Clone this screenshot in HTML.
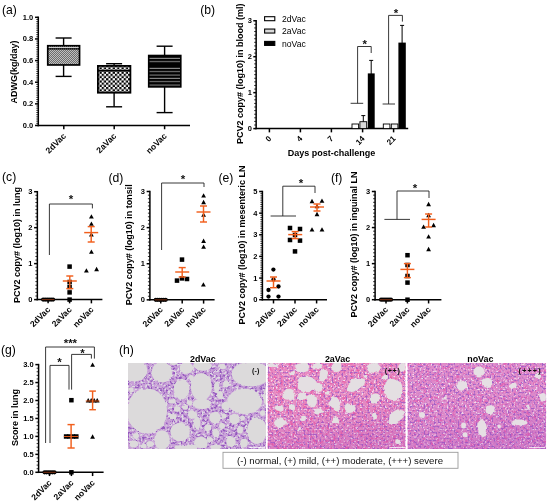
<!DOCTYPE html>
<html><head><meta charset="utf-8"><title>Figure</title><style>html,body{margin:0;padding:0;background:#fff}svg{display:block}text{font-family:"Liberation Sans",Arial,Helvetica,sans-serif}.b{font-weight:bold}.r{font-weight:normal}</style></head><body>
<svg width="550" height="504" viewBox="0 0 550 504">
<defs>
<pattern id="pA" width="2" height="2" patternUnits="userSpaceOnUse"><rect width="2" height="2" fill="#6c6c6c"/><rect width="0.9" height="0.9" fill="#d4d4d4"/><rect x="1" y="1" width="0.9" height="0.9" fill="#d4d4d4"/></pattern>
<pattern id="pA2" width="2" height="2" patternUnits="userSpaceOnUse"><rect width="2" height="2" fill="#d0d0d0"/><rect width="1" height="1" fill="#555"/></pattern>
<pattern id="pB" width="4.4" height="4.4" patternUnits="userSpaceOnUse" x="97.3" y="65.0"><rect width="4.4" height="4.4" fill="#fff"/><rect width="2.2" height="2.2" fill="#000"/><rect x="2.2" y="2.2" width="2.2" height="2.2" fill="#000"/></pattern>
<pattern id="pC" width="4" height="3.33" patternUnits="userSpaceOnUse" x="148" y="56.4"><rect width="4" height="3.33" fill="#000"/><rect y="1.5" width="4" height="0.85" fill="#a8a8a8"/></pattern>
</defs>
<rect x="0.00" y="0.00" width="550.00" height="504.00" fill="#fff"/>
<text x="1.90" y="14.00" font-size="12.2" class="r" text-anchor="start" fill="#000">(a)</text>
<text x="200.20" y="13.90" font-size="12.2" class="r" text-anchor="start" fill="#000">(b)</text>
<text x="2.00" y="180.70" font-size="12.2" class="r" text-anchor="start" fill="#000">(c)</text>
<text x="108.50" y="181.60" font-size="12.2" class="r" text-anchor="start" fill="#000">(d)</text>
<text x="218.50" y="181.60" font-size="12.2" class="r" text-anchor="start" fill="#000">(e)</text>
<text x="330.90" y="181.60" font-size="12.2" class="r" text-anchor="start" fill="#000">(f)</text>
<text x="1.00" y="354.30" font-size="12.2" class="r" text-anchor="start" fill="#000">(g)</text>
<text x="118.90" y="354.10" font-size="12.2" class="r" text-anchor="start" fill="#000">(h)</text>
<line x1="38.30" y1="16.55" x2="38.30" y2="126.25" stroke="#000" stroke-width="1.5" stroke-linecap="butt"/>
<line x1="35.05" y1="17.30" x2="38.30" y2="17.30" stroke="#000" stroke-width="1.5" stroke-linecap="butt"/>
<text x="33.30" y="19.85" font-size="7.5" class="b" text-anchor="end" fill="#000">1.0</text>
<line x1="36.30" y1="19.46" x2="38.30" y2="19.46" stroke="#000" stroke-width="0.8" stroke-linecap="butt"/>
<line x1="36.30" y1="21.63" x2="38.30" y2="21.63" stroke="#000" stroke-width="0.8" stroke-linecap="butt"/>
<line x1="36.30" y1="23.79" x2="38.30" y2="23.79" stroke="#000" stroke-width="0.8" stroke-linecap="butt"/>
<line x1="36.30" y1="25.96" x2="38.30" y2="25.96" stroke="#000" stroke-width="0.8" stroke-linecap="butt"/>
<line x1="36.30" y1="28.12" x2="38.30" y2="28.12" stroke="#000" stroke-width="0.8" stroke-linecap="butt"/>
<line x1="36.30" y1="30.28" x2="38.30" y2="30.28" stroke="#000" stroke-width="0.8" stroke-linecap="butt"/>
<line x1="36.30" y1="32.45" x2="38.30" y2="32.45" stroke="#000" stroke-width="0.8" stroke-linecap="butt"/>
<line x1="36.30" y1="34.61" x2="38.30" y2="34.61" stroke="#000" stroke-width="0.8" stroke-linecap="butt"/>
<line x1="36.30" y1="36.78" x2="38.30" y2="36.78" stroke="#000" stroke-width="0.8" stroke-linecap="butt"/>
<line x1="35.05" y1="38.94" x2="38.30" y2="38.94" stroke="#000" stroke-width="1.5" stroke-linecap="butt"/>
<text x="33.30" y="41.49" font-size="7.5" class="b" text-anchor="end" fill="#000">0.8</text>
<line x1="36.30" y1="41.10" x2="38.30" y2="41.10" stroke="#000" stroke-width="0.8" stroke-linecap="butt"/>
<line x1="36.30" y1="43.27" x2="38.30" y2="43.27" stroke="#000" stroke-width="0.8" stroke-linecap="butt"/>
<line x1="36.30" y1="45.43" x2="38.30" y2="45.43" stroke="#000" stroke-width="0.8" stroke-linecap="butt"/>
<line x1="36.30" y1="47.60" x2="38.30" y2="47.60" stroke="#000" stroke-width="0.8" stroke-linecap="butt"/>
<line x1="36.30" y1="49.76" x2="38.30" y2="49.76" stroke="#000" stroke-width="0.8" stroke-linecap="butt"/>
<line x1="36.30" y1="51.92" x2="38.30" y2="51.92" stroke="#000" stroke-width="0.8" stroke-linecap="butt"/>
<line x1="36.30" y1="54.09" x2="38.30" y2="54.09" stroke="#000" stroke-width="0.8" stroke-linecap="butt"/>
<line x1="36.30" y1="56.25" x2="38.30" y2="56.25" stroke="#000" stroke-width="0.8" stroke-linecap="butt"/>
<line x1="36.30" y1="58.42" x2="38.30" y2="58.42" stroke="#000" stroke-width="0.8" stroke-linecap="butt"/>
<line x1="35.05" y1="60.58" x2="38.30" y2="60.58" stroke="#000" stroke-width="1.5" stroke-linecap="butt"/>
<text x="33.30" y="63.13" font-size="7.5" class="b" text-anchor="end" fill="#000">0.6</text>
<line x1="36.30" y1="62.74" x2="38.30" y2="62.74" stroke="#000" stroke-width="0.8" stroke-linecap="butt"/>
<line x1="36.30" y1="64.91" x2="38.30" y2="64.91" stroke="#000" stroke-width="0.8" stroke-linecap="butt"/>
<line x1="36.30" y1="67.07" x2="38.30" y2="67.07" stroke="#000" stroke-width="0.8" stroke-linecap="butt"/>
<line x1="36.30" y1="69.24" x2="38.30" y2="69.24" stroke="#000" stroke-width="0.8" stroke-linecap="butt"/>
<line x1="36.30" y1="71.40" x2="38.30" y2="71.40" stroke="#000" stroke-width="0.8" stroke-linecap="butt"/>
<line x1="36.30" y1="73.56" x2="38.30" y2="73.56" stroke="#000" stroke-width="0.8" stroke-linecap="butt"/>
<line x1="36.30" y1="75.73" x2="38.30" y2="75.73" stroke="#000" stroke-width="0.8" stroke-linecap="butt"/>
<line x1="36.30" y1="77.89" x2="38.30" y2="77.89" stroke="#000" stroke-width="0.8" stroke-linecap="butt"/>
<line x1="36.30" y1="80.06" x2="38.30" y2="80.06" stroke="#000" stroke-width="0.8" stroke-linecap="butt"/>
<line x1="35.05" y1="82.22" x2="38.30" y2="82.22" stroke="#000" stroke-width="1.5" stroke-linecap="butt"/>
<text x="33.30" y="84.77" font-size="7.5" class="b" text-anchor="end" fill="#000">0.4</text>
<line x1="36.30" y1="84.38" x2="38.30" y2="84.38" stroke="#000" stroke-width="0.8" stroke-linecap="butt"/>
<line x1="36.30" y1="86.55" x2="38.30" y2="86.55" stroke="#000" stroke-width="0.8" stroke-linecap="butt"/>
<line x1="36.30" y1="88.71" x2="38.30" y2="88.71" stroke="#000" stroke-width="0.8" stroke-linecap="butt"/>
<line x1="36.30" y1="90.88" x2="38.30" y2="90.88" stroke="#000" stroke-width="0.8" stroke-linecap="butt"/>
<line x1="36.30" y1="93.04" x2="38.30" y2="93.04" stroke="#000" stroke-width="0.8" stroke-linecap="butt"/>
<line x1="36.30" y1="95.20" x2="38.30" y2="95.20" stroke="#000" stroke-width="0.8" stroke-linecap="butt"/>
<line x1="36.30" y1="97.37" x2="38.30" y2="97.37" stroke="#000" stroke-width="0.8" stroke-linecap="butt"/>
<line x1="36.30" y1="99.53" x2="38.30" y2="99.53" stroke="#000" stroke-width="0.8" stroke-linecap="butt"/>
<line x1="36.30" y1="101.70" x2="38.30" y2="101.70" stroke="#000" stroke-width="0.8" stroke-linecap="butt"/>
<line x1="35.05" y1="103.86" x2="38.30" y2="103.86" stroke="#000" stroke-width="1.5" stroke-linecap="butt"/>
<text x="33.30" y="106.41" font-size="7.5" class="b" text-anchor="end" fill="#000">0.2</text>
<line x1="36.30" y1="106.02" x2="38.30" y2="106.02" stroke="#000" stroke-width="0.8" stroke-linecap="butt"/>
<line x1="36.30" y1="108.19" x2="38.30" y2="108.19" stroke="#000" stroke-width="0.8" stroke-linecap="butt"/>
<line x1="36.30" y1="110.35" x2="38.30" y2="110.35" stroke="#000" stroke-width="0.8" stroke-linecap="butt"/>
<line x1="36.30" y1="112.52" x2="38.30" y2="112.52" stroke="#000" stroke-width="0.8" stroke-linecap="butt"/>
<line x1="36.30" y1="114.68" x2="38.30" y2="114.68" stroke="#000" stroke-width="0.8" stroke-linecap="butt"/>
<line x1="36.30" y1="116.84" x2="38.30" y2="116.84" stroke="#000" stroke-width="0.8" stroke-linecap="butt"/>
<line x1="36.30" y1="119.01" x2="38.30" y2="119.01" stroke="#000" stroke-width="0.8" stroke-linecap="butt"/>
<line x1="36.30" y1="121.17" x2="38.30" y2="121.17" stroke="#000" stroke-width="0.8" stroke-linecap="butt"/>
<line x1="36.30" y1="123.34" x2="38.30" y2="123.34" stroke="#000" stroke-width="0.8" stroke-linecap="butt"/>
<line x1="35.05" y1="125.50" x2="38.30" y2="125.50" stroke="#000" stroke-width="1.5" stroke-linecap="butt"/>
<text x="33.30" y="128.05" font-size="7.5" class="b" text-anchor="end" fill="#000">0.0</text>
<line x1="37.55" y1="125.50" x2="190.00" y2="125.50" stroke="#000" stroke-width="1.5" stroke-linecap="butt"/>
<line x1="63.80" y1="125.50" x2="63.80" y2="129.25" stroke="#000" stroke-width="1.5" stroke-linecap="butt"/>
<line x1="114.20" y1="125.50" x2="114.20" y2="129.25" stroke="#000" stroke-width="1.5" stroke-linecap="butt"/>
<line x1="164.60" y1="125.50" x2="164.60" y2="129.25" stroke="#000" stroke-width="1.5" stroke-linecap="butt"/>
<text x="66.50" y="136.60" font-size="8.5" class="b" text-anchor="end" fill="#000" transform="rotate(-45 66.50 136.60)">2dVac</text>
<text x="116.90" y="136.60" font-size="8.5" class="b" text-anchor="end" fill="#000" transform="rotate(-45 116.90 136.60)">2aVac</text>
<text x="167.30" y="136.60" font-size="8.5" class="b" text-anchor="end" fill="#000" transform="rotate(-45 167.30 136.60)">noVac</text>
<text x="17.20" y="72.00" font-size="9" class="b" text-anchor="middle" fill="#000" transform="rotate(-90 17.20 72.00)">ADWG(kg/day)</text>
<line x1="63.60" y1="38.00" x2="63.60" y2="76.40" stroke="#000" stroke-width="1.4" stroke-linecap="butt"/>
<line x1="55.60" y1="38.00" x2="71.60" y2="38.00" stroke="#000" stroke-width="1.4" stroke-linecap="butt"/>
<line x1="55.60" y1="76.40" x2="71.60" y2="76.40" stroke="#000" stroke-width="1.4" stroke-linecap="butt"/>
<rect x="47.75" y="45.75" width="31.80" height="19.20" fill="url(#pA)"/>
<rect x="47.75" y="45.75" width="31.80" height="3.20" fill="url(#pA2)"/>
<rect x="47.75" y="45.75" width="31.80" height="19.20" fill="none" stroke="#000" stroke-width="1.7"/>
<line x1="47.75" y1="48.90" x2="79.55" y2="48.90" stroke="#000" stroke-width="1.3" stroke-linecap="butt"/>
<line x1="114.10" y1="63.70" x2="114.10" y2="106.80" stroke="#000" stroke-width="1.4" stroke-linecap="butt"/>
<line x1="106.10" y1="63.70" x2="122.10" y2="63.70" stroke="#000" stroke-width="1.4" stroke-linecap="butt"/>
<line x1="106.10" y1="106.80" x2="122.10" y2="106.80" stroke="#000" stroke-width="1.4" stroke-linecap="butt"/>
<rect x="97.90" y="65.90" width="32.50" height="26.80" fill="url(#pB)" stroke="#000" stroke-width="1.8"/>
<line x1="97.90" y1="70.80" x2="130.40" y2="70.80" stroke="#000" stroke-width="1.4" stroke-linecap="butt"/>
<line x1="164.60" y1="46.20" x2="164.60" y2="112.60" stroke="#000" stroke-width="1.4" stroke-linecap="butt"/>
<line x1="156.60" y1="46.20" x2="172.60" y2="46.20" stroke="#000" stroke-width="1.4" stroke-linecap="butt"/>
<line x1="156.60" y1="112.60" x2="172.60" y2="112.60" stroke="#000" stroke-width="1.4" stroke-linecap="butt"/>
<rect x="148.70" y="55.50" width="32.10" height="31.40" fill="url(#pC)" stroke="#000" stroke-width="1.6"/>
<line x1="148.70" y1="64.90" x2="180.80" y2="64.90" stroke="#000" stroke-width="2.2" stroke-linecap="butt"/>
<line x1="256.15" y1="20.00" x2="256.15" y2="129.35" stroke="#000" stroke-width="1.5" stroke-linecap="butt"/>
<line x1="253.30" y1="20.75" x2="256.15" y2="20.75" stroke="#000" stroke-width="1.5" stroke-linecap="butt"/>
<text x="252.00" y="23.30" font-size="7.5" class="b" text-anchor="end" fill="#000">3</text>
<line x1="254.15" y1="24.34" x2="256.15" y2="24.34" stroke="#000" stroke-width="0.8" stroke-linecap="butt"/>
<line x1="254.15" y1="27.94" x2="256.15" y2="27.94" stroke="#000" stroke-width="0.8" stroke-linecap="butt"/>
<line x1="254.15" y1="31.54" x2="256.15" y2="31.54" stroke="#000" stroke-width="0.8" stroke-linecap="butt"/>
<line x1="254.15" y1="35.13" x2="256.15" y2="35.13" stroke="#000" stroke-width="0.8" stroke-linecap="butt"/>
<line x1="254.15" y1="38.72" x2="256.15" y2="38.72" stroke="#000" stroke-width="0.8" stroke-linecap="butt"/>
<line x1="254.15" y1="42.32" x2="256.15" y2="42.32" stroke="#000" stroke-width="0.8" stroke-linecap="butt"/>
<line x1="254.15" y1="45.91" x2="256.15" y2="45.91" stroke="#000" stroke-width="0.8" stroke-linecap="butt"/>
<line x1="254.15" y1="49.51" x2="256.15" y2="49.51" stroke="#000" stroke-width="0.8" stroke-linecap="butt"/>
<line x1="254.15" y1="53.10" x2="256.15" y2="53.10" stroke="#000" stroke-width="0.8" stroke-linecap="butt"/>
<line x1="253.30" y1="56.70" x2="256.15" y2="56.70" stroke="#000" stroke-width="1.5" stroke-linecap="butt"/>
<text x="252.00" y="59.25" font-size="7.5" class="b" text-anchor="end" fill="#000">2</text>
<line x1="254.15" y1="60.29" x2="256.15" y2="60.29" stroke="#000" stroke-width="0.8" stroke-linecap="butt"/>
<line x1="254.15" y1="63.89" x2="256.15" y2="63.89" stroke="#000" stroke-width="0.8" stroke-linecap="butt"/>
<line x1="254.15" y1="67.48" x2="256.15" y2="67.48" stroke="#000" stroke-width="0.8" stroke-linecap="butt"/>
<line x1="254.15" y1="71.08" x2="256.15" y2="71.08" stroke="#000" stroke-width="0.8" stroke-linecap="butt"/>
<line x1="254.15" y1="74.67" x2="256.15" y2="74.67" stroke="#000" stroke-width="0.8" stroke-linecap="butt"/>
<line x1="254.15" y1="78.27" x2="256.15" y2="78.27" stroke="#000" stroke-width="0.8" stroke-linecap="butt"/>
<line x1="254.15" y1="81.86" x2="256.15" y2="81.86" stroke="#000" stroke-width="0.8" stroke-linecap="butt"/>
<line x1="254.15" y1="85.46" x2="256.15" y2="85.46" stroke="#000" stroke-width="0.8" stroke-linecap="butt"/>
<line x1="254.15" y1="89.05" x2="256.15" y2="89.05" stroke="#000" stroke-width="0.8" stroke-linecap="butt"/>
<line x1="253.30" y1="92.65" x2="256.15" y2="92.65" stroke="#000" stroke-width="1.5" stroke-linecap="butt"/>
<text x="252.00" y="95.20" font-size="7.5" class="b" text-anchor="end" fill="#000">1</text>
<line x1="254.15" y1="96.24" x2="256.15" y2="96.24" stroke="#000" stroke-width="0.8" stroke-linecap="butt"/>
<line x1="254.15" y1="99.84" x2="256.15" y2="99.84" stroke="#000" stroke-width="0.8" stroke-linecap="butt"/>
<line x1="254.15" y1="103.43" x2="256.15" y2="103.43" stroke="#000" stroke-width="0.8" stroke-linecap="butt"/>
<line x1="254.15" y1="107.03" x2="256.15" y2="107.03" stroke="#000" stroke-width="0.8" stroke-linecap="butt"/>
<line x1="254.15" y1="110.62" x2="256.15" y2="110.62" stroke="#000" stroke-width="0.8" stroke-linecap="butt"/>
<line x1="254.15" y1="114.22" x2="256.15" y2="114.22" stroke="#000" stroke-width="0.8" stroke-linecap="butt"/>
<line x1="254.15" y1="117.81" x2="256.15" y2="117.81" stroke="#000" stroke-width="0.8" stroke-linecap="butt"/>
<line x1="254.15" y1="121.41" x2="256.15" y2="121.41" stroke="#000" stroke-width="0.8" stroke-linecap="butt"/>
<line x1="254.15" y1="125.00" x2="256.15" y2="125.00" stroke="#000" stroke-width="0.8" stroke-linecap="butt"/>
<line x1="253.30" y1="128.60" x2="256.15" y2="128.60" stroke="#000" stroke-width="1.5" stroke-linecap="butt"/>
<text x="252.00" y="131.15" font-size="7.5" class="b" text-anchor="end" fill="#000">0</text>
<line x1="255.40" y1="128.60" x2="408.20" y2="128.60" stroke="#000" stroke-width="1.5" stroke-linecap="butt"/>
<line x1="269.40" y1="128.60" x2="269.40" y2="132.35" stroke="#000" stroke-width="1.5" stroke-linecap="butt"/>
<line x1="300.40" y1="128.60" x2="300.40" y2="132.35" stroke="#000" stroke-width="1.5" stroke-linecap="butt"/>
<line x1="331.40" y1="128.60" x2="331.40" y2="132.35" stroke="#000" stroke-width="1.5" stroke-linecap="butt"/>
<line x1="362.60" y1="128.60" x2="362.60" y2="132.35" stroke="#000" stroke-width="1.5" stroke-linecap="butt"/>
<line x1="393.60" y1="128.60" x2="393.60" y2="132.35" stroke="#000" stroke-width="1.5" stroke-linecap="butt"/>
<text x="272.00" y="139.20" font-size="8" class="b" text-anchor="end" fill="#000" transform="rotate(-45 272.00 139.20)">0</text>
<text x="303.00" y="139.20" font-size="8" class="b" text-anchor="end" fill="#000" transform="rotate(-45 303.00 139.20)">4</text>
<text x="334.00" y="139.20" font-size="8" class="b" text-anchor="end" fill="#000" transform="rotate(-45 334.00 139.20)">7</text>
<text x="365.20" y="139.20" font-size="8" class="b" text-anchor="end" fill="#000" transform="rotate(-45 365.20 139.20)">14</text>
<text x="396.20" y="139.20" font-size="8" class="b" text-anchor="end" fill="#000" transform="rotate(-45 396.20 139.20)">21</text>
<text x="242.80" y="73.80" font-size="9" class="b" text-anchor="middle" fill="#000" transform="rotate(-90 242.80 73.80)">PCV2 copy# (log10) in blood (ml)</text>
<text x="331.50" y="155.80" font-size="9" class="b" text-anchor="middle" fill="#000">Days post-challenge</text>
<rect x="264.60" y="16.70" width="10.20" height="4.00" fill="#fff" stroke="#000" stroke-width="1.1"/>
<text x="282.00" y="22.00" font-size="8.6" class="r" text-anchor="start" fill="#000">2dVac</text>
<rect x="264.60" y="29.05" width="10.20" height="4.00" fill="#d9d9d9" stroke="#000" stroke-width="1.1"/>
<text x="282.00" y="34.35" font-size="8.6" class="r" text-anchor="start" fill="#000">2aVac</text>
<rect x="264.60" y="41.40" width="10.20" height="4.00" fill="#000" stroke="#000" stroke-width="1.1"/>
<text x="282.00" y="46.70" font-size="8.6" class="r" text-anchor="start" fill="#000">noVac</text>
<line x1="363.30" y1="115.60" x2="363.30" y2="122.00" stroke="#000" stroke-width="1.0" stroke-linecap="butt"/>
<line x1="361.30" y1="115.60" x2="365.30" y2="115.60" stroke="#000" stroke-width="1.0" stroke-linecap="butt"/>
<rect x="352.00" y="124.00" width="6.60" height="4.60" fill="#fff" stroke="#000" stroke-width="0.9"/>
<rect x="359.90" y="121.70" width="6.80" height="6.90" fill="#d9d9d9" stroke="#000" stroke-width="0.9"/>
<line x1="371.20" y1="60.40" x2="371.20" y2="74.00" stroke="#000" stroke-width="1.0" stroke-linecap="butt"/>
<line x1="369.20" y1="60.40" x2="373.20" y2="60.40" stroke="#000" stroke-width="1.0" stroke-linecap="butt"/>
<rect x="367.80" y="73.40" width="6.90" height="55.20" fill="#000"/>
<rect x="383.30" y="124.00" width="6.60" height="4.60" fill="#fff" stroke="#000" stroke-width="0.9"/>
<rect x="391.30" y="124.00" width="6.60" height="4.60" fill="#eee" stroke="#000" stroke-width="0.9"/>
<line x1="402.10" y1="25.40" x2="402.10" y2="43.00" stroke="#000" stroke-width="1.0" stroke-linecap="butt"/>
<line x1="400.10" y1="25.40" x2="404.10" y2="25.40" stroke="#000" stroke-width="1.0" stroke-linecap="butt"/>
<rect x="398.40" y="42.60" width="7.40" height="86.00" fill="#000"/>
<polyline points="357.60,103.30 357.60,46.50 371.20,46.50 371.20,53.00" fill="none" stroke="#222" stroke-width="0.9"/>
<line x1="350.60" y1="103.30" x2="363.20" y2="103.30" stroke="#222" stroke-width="0.9" stroke-linecap="butt"/>
<polyline points="388.60,104.00 388.60,15.40 402.40,15.40 402.40,21.60" fill="none" stroke="#222" stroke-width="0.9"/>
<line x1="382.60" y1="104.00" x2="395.00" y2="104.00" stroke="#222" stroke-width="0.9" stroke-linecap="butt"/>
<text x="364.80" y="48.00" font-size="11.5" class="b" text-anchor="middle" fill="#111">*</text>
<text x="396.00" y="17.00" font-size="11.5" class="b" text-anchor="middle" fill="#111">*</text>
<line x1="37.35" y1="190.95" x2="37.35" y2="300.35" stroke="#000" stroke-width="1.5" stroke-linecap="butt"/>
<line x1="34.10" y1="191.70" x2="37.35" y2="191.70" stroke="#000" stroke-width="1.5" stroke-linecap="butt"/>
<text x="32.35" y="194.25" font-size="7.5" class="b" text-anchor="end" fill="#000">3</text>
<line x1="35.35" y1="195.30" x2="37.35" y2="195.30" stroke="#000" stroke-width="0.8" stroke-linecap="butt"/>
<line x1="35.35" y1="198.89" x2="37.35" y2="198.89" stroke="#000" stroke-width="0.8" stroke-linecap="butt"/>
<line x1="35.35" y1="202.49" x2="37.35" y2="202.49" stroke="#000" stroke-width="0.8" stroke-linecap="butt"/>
<line x1="35.35" y1="206.09" x2="37.35" y2="206.09" stroke="#000" stroke-width="0.8" stroke-linecap="butt"/>
<line x1="35.35" y1="209.68" x2="37.35" y2="209.68" stroke="#000" stroke-width="0.8" stroke-linecap="butt"/>
<line x1="35.35" y1="213.28" x2="37.35" y2="213.28" stroke="#000" stroke-width="0.8" stroke-linecap="butt"/>
<line x1="35.35" y1="216.88" x2="37.35" y2="216.88" stroke="#000" stroke-width="0.8" stroke-linecap="butt"/>
<line x1="35.35" y1="220.47" x2="37.35" y2="220.47" stroke="#000" stroke-width="0.8" stroke-linecap="butt"/>
<line x1="35.35" y1="224.07" x2="37.35" y2="224.07" stroke="#000" stroke-width="0.8" stroke-linecap="butt"/>
<line x1="34.10" y1="227.67" x2="37.35" y2="227.67" stroke="#000" stroke-width="1.5" stroke-linecap="butt"/>
<text x="32.35" y="230.22" font-size="7.5" class="b" text-anchor="end" fill="#000">2</text>
<line x1="35.35" y1="231.26" x2="37.35" y2="231.26" stroke="#000" stroke-width="0.8" stroke-linecap="butt"/>
<line x1="35.35" y1="234.86" x2="37.35" y2="234.86" stroke="#000" stroke-width="0.8" stroke-linecap="butt"/>
<line x1="35.35" y1="238.46" x2="37.35" y2="238.46" stroke="#000" stroke-width="0.8" stroke-linecap="butt"/>
<line x1="35.35" y1="242.05" x2="37.35" y2="242.05" stroke="#000" stroke-width="0.8" stroke-linecap="butt"/>
<line x1="35.35" y1="245.65" x2="37.35" y2="245.65" stroke="#000" stroke-width="0.8" stroke-linecap="butt"/>
<line x1="35.35" y1="249.25" x2="37.35" y2="249.25" stroke="#000" stroke-width="0.8" stroke-linecap="butt"/>
<line x1="35.35" y1="252.84" x2="37.35" y2="252.84" stroke="#000" stroke-width="0.8" stroke-linecap="butt"/>
<line x1="35.35" y1="256.44" x2="37.35" y2="256.44" stroke="#000" stroke-width="0.8" stroke-linecap="butt"/>
<line x1="35.35" y1="260.04" x2="37.35" y2="260.04" stroke="#000" stroke-width="0.8" stroke-linecap="butt"/>
<line x1="34.10" y1="263.63" x2="37.35" y2="263.63" stroke="#000" stroke-width="1.5" stroke-linecap="butt"/>
<text x="32.35" y="266.18" font-size="7.5" class="b" text-anchor="end" fill="#000">1</text>
<line x1="35.35" y1="267.23" x2="37.35" y2="267.23" stroke="#000" stroke-width="0.8" stroke-linecap="butt"/>
<line x1="35.35" y1="270.83" x2="37.35" y2="270.83" stroke="#000" stroke-width="0.8" stroke-linecap="butt"/>
<line x1="35.35" y1="274.42" x2="37.35" y2="274.42" stroke="#000" stroke-width="0.8" stroke-linecap="butt"/>
<line x1="35.35" y1="278.02" x2="37.35" y2="278.02" stroke="#000" stroke-width="0.8" stroke-linecap="butt"/>
<line x1="35.35" y1="281.62" x2="37.35" y2="281.62" stroke="#000" stroke-width="0.8" stroke-linecap="butt"/>
<line x1="35.35" y1="285.21" x2="37.35" y2="285.21" stroke="#000" stroke-width="0.8" stroke-linecap="butt"/>
<line x1="35.35" y1="288.81" x2="37.35" y2="288.81" stroke="#000" stroke-width="0.8" stroke-linecap="butt"/>
<line x1="35.35" y1="292.41" x2="37.35" y2="292.41" stroke="#000" stroke-width="0.8" stroke-linecap="butt"/>
<line x1="35.35" y1="296.00" x2="37.35" y2="296.00" stroke="#000" stroke-width="0.8" stroke-linecap="butt"/>
<line x1="34.10" y1="299.60" x2="37.35" y2="299.60" stroke="#000" stroke-width="1.5" stroke-linecap="butt"/>
<text x="32.35" y="302.15" font-size="7.5" class="b" text-anchor="end" fill="#000">0</text>
<line x1="36.60" y1="299.60" x2="102.40" y2="299.60" stroke="#000" stroke-width="1.5" stroke-linecap="butt"/>
<line x1="48.10" y1="299.60" x2="48.10" y2="303.35" stroke="#000" stroke-width="1.5" stroke-linecap="butt"/>
<line x1="69.60" y1="299.60" x2="69.60" y2="303.35" stroke="#000" stroke-width="1.5" stroke-linecap="butt"/>
<line x1="91.40" y1="299.60" x2="91.40" y2="303.35" stroke="#000" stroke-width="1.5" stroke-linecap="butt"/>
<text x="50.80" y="310.20" font-size="8.5" class="b" text-anchor="end" fill="#000" transform="rotate(-45 50.80 310.20)">2dVac</text>
<text x="72.30" y="310.20" font-size="8.5" class="b" text-anchor="end" fill="#000" transform="rotate(-45 72.30 310.20)">2aVac</text>
<text x="94.10" y="310.20" font-size="8.5" class="b" text-anchor="end" fill="#000" transform="rotate(-45 94.10 310.20)">noVac</text>
<text x="20.00" y="245.00" font-size="9" class="b" text-anchor="middle" fill="#000" transform="rotate(-90 20.00 245.00)">PCV2 copy# (log10) in lung</text>
<circle cx="43.15" cy="299.60" r="2.15" fill="#000"/>
<circle cx="45.13" cy="299.60" r="2.15" fill="#000"/>
<circle cx="47.11" cy="299.60" r="2.15" fill="#000"/>
<circle cx="49.09" cy="299.60" r="2.15" fill="#000"/>
<circle cx="51.07" cy="299.60" r="2.15" fill="#000"/>
<circle cx="53.05" cy="299.60" r="2.15" fill="#000"/>
<line x1="41.90" y1="299.60" x2="54.30" y2="299.60" stroke="#d4521e" stroke-width="0.6" stroke-linecap="butt"/>
<rect x="67.35" y="264.35" width="4.50" height="4.50" fill="#000"/>
<rect x="67.35" y="279.75" width="4.50" height="4.50" fill="#000"/>
<rect x="67.35" y="284.75" width="4.50" height="4.50" fill="#000"/>
<rect x="67.35" y="290.15" width="4.50" height="4.50" fill="#000"/>
<rect x="67.35" y="297.35" width="4.50" height="4.50" fill="#000"/>
<line x1="62.80" y1="281.00" x2="76.80" y2="281.00" stroke="#f15f1c" stroke-width="1.45" stroke-linecap="butt"/>
<line x1="69.80" y1="276.00" x2="69.80" y2="288.60" stroke="#f15f1c" stroke-width="1.45" stroke-linecap="butt"/>
<line x1="66.30" y1="276.00" x2="73.30" y2="276.00" stroke="#f15f1c" stroke-width="1.45" stroke-linecap="butt"/>
<line x1="66.30" y1="288.60" x2="73.30" y2="288.60" stroke="#f15f1c" stroke-width="1.45" stroke-linecap="butt"/>
<polygon points="91.40,214.20 93.80,218.60 89.00,218.60" fill="#000"/>
<polygon points="91.40,221.40 93.80,225.80 89.00,225.80" fill="#000"/>
<polygon points="91.40,232.20 93.80,236.60 89.00,236.60" fill="#000"/>
<polygon points="91.40,249.40 93.80,253.80 89.00,253.80" fill="#000"/>
<polygon points="86.40,268.20 88.80,272.60 84.00,272.60" fill="#000"/>
<polygon points="96.60,266.80 99.00,271.20 94.20,271.20" fill="#000"/>
<line x1="84.20" y1="232.60" x2="98.20" y2="232.60" stroke="#f15f1c" stroke-width="1.45" stroke-linecap="butt"/>
<line x1="91.20" y1="226.60" x2="91.20" y2="242.00" stroke="#f15f1c" stroke-width="1.45" stroke-linecap="butt"/>
<line x1="87.70" y1="226.60" x2="94.70" y2="226.60" stroke="#f15f1c" stroke-width="1.45" stroke-linecap="butt"/>
<line x1="87.70" y1="242.00" x2="94.70" y2="242.00" stroke="#f15f1c" stroke-width="1.45" stroke-linecap="butt"/>
<polyline points="49.40,255.00 49.40,204.00 92.40,204.00 92.40,208.40" fill="none" stroke="#222" stroke-width="0.9"/>
<text x="71.00" y="203.00" font-size="11.5" class="b" text-anchor="middle" fill="#111">*</text>
<line x1="149.90" y1="190.75" x2="149.90" y2="300.60" stroke="#000" stroke-width="1.5" stroke-linecap="butt"/>
<line x1="146.65" y1="191.50" x2="149.90" y2="191.50" stroke="#000" stroke-width="1.5" stroke-linecap="butt"/>
<text x="144.90" y="194.05" font-size="7.5" class="b" text-anchor="end" fill="#000">3</text>
<line x1="147.90" y1="195.11" x2="149.90" y2="195.11" stroke="#000" stroke-width="0.8" stroke-linecap="butt"/>
<line x1="147.90" y1="198.72" x2="149.90" y2="198.72" stroke="#000" stroke-width="0.8" stroke-linecap="butt"/>
<line x1="147.90" y1="202.34" x2="149.90" y2="202.34" stroke="#000" stroke-width="0.8" stroke-linecap="butt"/>
<line x1="147.90" y1="205.95" x2="149.90" y2="205.95" stroke="#000" stroke-width="0.8" stroke-linecap="butt"/>
<line x1="147.90" y1="209.56" x2="149.90" y2="209.56" stroke="#000" stroke-width="0.8" stroke-linecap="butt"/>
<line x1="147.90" y1="213.17" x2="149.90" y2="213.17" stroke="#000" stroke-width="0.8" stroke-linecap="butt"/>
<line x1="147.90" y1="216.78" x2="149.90" y2="216.78" stroke="#000" stroke-width="0.8" stroke-linecap="butt"/>
<line x1="147.90" y1="220.39" x2="149.90" y2="220.39" stroke="#000" stroke-width="0.8" stroke-linecap="butt"/>
<line x1="147.90" y1="224.00" x2="149.90" y2="224.00" stroke="#000" stroke-width="0.8" stroke-linecap="butt"/>
<line x1="146.65" y1="227.62" x2="149.90" y2="227.62" stroke="#000" stroke-width="1.5" stroke-linecap="butt"/>
<text x="144.90" y="230.17" font-size="7.5" class="b" text-anchor="end" fill="#000">2</text>
<line x1="147.90" y1="231.23" x2="149.90" y2="231.23" stroke="#000" stroke-width="0.8" stroke-linecap="butt"/>
<line x1="147.90" y1="234.84" x2="149.90" y2="234.84" stroke="#000" stroke-width="0.8" stroke-linecap="butt"/>
<line x1="147.90" y1="238.45" x2="149.90" y2="238.45" stroke="#000" stroke-width="0.8" stroke-linecap="butt"/>
<line x1="147.90" y1="242.06" x2="149.90" y2="242.06" stroke="#000" stroke-width="0.8" stroke-linecap="butt"/>
<line x1="147.90" y1="245.68" x2="149.90" y2="245.68" stroke="#000" stroke-width="0.8" stroke-linecap="butt"/>
<line x1="147.90" y1="249.29" x2="149.90" y2="249.29" stroke="#000" stroke-width="0.8" stroke-linecap="butt"/>
<line x1="147.90" y1="252.90" x2="149.90" y2="252.90" stroke="#000" stroke-width="0.8" stroke-linecap="butt"/>
<line x1="147.90" y1="256.51" x2="149.90" y2="256.51" stroke="#000" stroke-width="0.8" stroke-linecap="butt"/>
<line x1="147.90" y1="260.12" x2="149.90" y2="260.12" stroke="#000" stroke-width="0.8" stroke-linecap="butt"/>
<line x1="146.65" y1="263.73" x2="149.90" y2="263.73" stroke="#000" stroke-width="1.5" stroke-linecap="butt"/>
<text x="144.90" y="266.28" font-size="7.5" class="b" text-anchor="end" fill="#000">1</text>
<line x1="147.90" y1="267.35" x2="149.90" y2="267.35" stroke="#000" stroke-width="0.8" stroke-linecap="butt"/>
<line x1="147.90" y1="270.96" x2="149.90" y2="270.96" stroke="#000" stroke-width="0.8" stroke-linecap="butt"/>
<line x1="147.90" y1="274.57" x2="149.90" y2="274.57" stroke="#000" stroke-width="0.8" stroke-linecap="butt"/>
<line x1="147.90" y1="278.18" x2="149.90" y2="278.18" stroke="#000" stroke-width="0.8" stroke-linecap="butt"/>
<line x1="147.90" y1="281.79" x2="149.90" y2="281.79" stroke="#000" stroke-width="0.8" stroke-linecap="butt"/>
<line x1="147.90" y1="285.40" x2="149.90" y2="285.40" stroke="#000" stroke-width="0.8" stroke-linecap="butt"/>
<line x1="147.90" y1="289.02" x2="149.90" y2="289.02" stroke="#000" stroke-width="0.8" stroke-linecap="butt"/>
<line x1="147.90" y1="292.63" x2="149.90" y2="292.63" stroke="#000" stroke-width="0.8" stroke-linecap="butt"/>
<line x1="147.90" y1="296.24" x2="149.90" y2="296.24" stroke="#000" stroke-width="0.8" stroke-linecap="butt"/>
<line x1="146.65" y1="299.85" x2="149.90" y2="299.85" stroke="#000" stroke-width="1.5" stroke-linecap="butt"/>
<text x="144.90" y="302.40" font-size="7.5" class="b" text-anchor="end" fill="#000">0</text>
<line x1="149.15" y1="299.85" x2="214.60" y2="299.85" stroke="#000" stroke-width="1.5" stroke-linecap="butt"/>
<line x1="160.75" y1="299.85" x2="160.75" y2="303.60" stroke="#000" stroke-width="1.5" stroke-linecap="butt"/>
<line x1="182.20" y1="299.85" x2="182.20" y2="303.60" stroke="#000" stroke-width="1.5" stroke-linecap="butt"/>
<line x1="203.60" y1="299.85" x2="203.60" y2="303.60" stroke="#000" stroke-width="1.5" stroke-linecap="butt"/>
<text x="163.45" y="310.20" font-size="8.5" class="b" text-anchor="end" fill="#000" transform="rotate(-45 163.45 310.20)">2dVac</text>
<text x="184.90" y="310.20" font-size="8.5" class="b" text-anchor="end" fill="#000" transform="rotate(-45 184.90 310.20)">2aVac</text>
<text x="206.30" y="310.20" font-size="8.5" class="b" text-anchor="end" fill="#000" transform="rotate(-45 206.30 310.20)">noVac</text>
<text x="132.40" y="244.70" font-size="9" class="b" text-anchor="middle" fill="#000" transform="rotate(-90 132.40 244.70)">PCV2 copy# (log10) in tonsil</text>
<circle cx="155.80" cy="299.85" r="2.15" fill="#000"/>
<circle cx="157.78" cy="299.85" r="2.15" fill="#000"/>
<circle cx="159.76" cy="299.85" r="2.15" fill="#000"/>
<circle cx="161.74" cy="299.85" r="2.15" fill="#000"/>
<circle cx="163.72" cy="299.85" r="2.15" fill="#000"/>
<circle cx="165.70" cy="299.85" r="2.15" fill="#000"/>
<line x1="154.55" y1="299.85" x2="166.95" y2="299.85" stroke="#d4521e" stroke-width="0.6" stroke-linecap="butt"/>
<rect x="179.75" y="257.35" width="4.50" height="4.50" fill="#000"/>
<rect x="174.75" y="278.35" width="4.50" height="4.50" fill="#000"/>
<rect x="179.75" y="276.15" width="4.50" height="4.50" fill="#000"/>
<rect x="184.75" y="276.75" width="4.50" height="4.50" fill="#000"/>
<line x1="175.20" y1="272.00" x2="189.20" y2="272.00" stroke="#f15f1c" stroke-width="1.45" stroke-linecap="butt"/>
<line x1="182.20" y1="267.60" x2="182.20" y2="277.00" stroke="#f15f1c" stroke-width="1.45" stroke-linecap="butt"/>
<line x1="178.70" y1="267.60" x2="185.70" y2="267.60" stroke="#f15f1c" stroke-width="1.45" stroke-linecap="butt"/>
<line x1="178.70" y1="277.00" x2="185.70" y2="277.00" stroke="#f15f1c" stroke-width="1.45" stroke-linecap="butt"/>
<polygon points="203.60,193.20 206.00,197.60 201.20,197.60" fill="#000"/>
<polygon points="203.60,199.80 206.00,204.20 201.20,204.20" fill="#000"/>
<polygon points="203.60,212.40 206.00,216.80 201.20,216.80" fill="#000"/>
<polygon points="203.60,238.60 206.00,243.00 201.20,243.00" fill="#000"/>
<polygon points="203.60,244.40 206.00,248.80 201.20,248.80" fill="#000"/>
<polygon points="203.40,282.20 205.80,286.60 201.00,286.60" fill="#000"/>
<line x1="196.50" y1="212.00" x2="210.50" y2="212.00" stroke="#f15f1c" stroke-width="1.45" stroke-linecap="butt"/>
<line x1="203.50" y1="206.00" x2="203.50" y2="222.00" stroke="#f15f1c" stroke-width="1.45" stroke-linecap="butt"/>
<line x1="200.00" y1="206.00" x2="207.00" y2="206.00" stroke="#f15f1c" stroke-width="1.45" stroke-linecap="butt"/>
<line x1="200.00" y1="222.00" x2="207.00" y2="222.00" stroke="#f15f1c" stroke-width="1.45" stroke-linecap="butt"/>
<polyline points="161.60,250.00 161.60,183.00 204.00,183.00 204.00,187.00" fill="none" stroke="#222" stroke-width="0.9"/>
<text x="183.00" y="183.40" font-size="11.5" class="b" text-anchor="middle" fill="#111">*</text>
<line x1="262.40" y1="190.75" x2="262.40" y2="300.45" stroke="#000" stroke-width="1.5" stroke-linecap="butt"/>
<line x1="259.15" y1="191.50" x2="262.40" y2="191.50" stroke="#000" stroke-width="1.5" stroke-linecap="butt"/>
<text x="257.40" y="194.05" font-size="7.5" class="b" text-anchor="end" fill="#000">5</text>
<line x1="260.40" y1="193.66" x2="262.40" y2="193.66" stroke="#000" stroke-width="0.8" stroke-linecap="butt"/>
<line x1="260.40" y1="195.83" x2="262.40" y2="195.83" stroke="#000" stroke-width="0.8" stroke-linecap="butt"/>
<line x1="260.40" y1="197.99" x2="262.40" y2="197.99" stroke="#000" stroke-width="0.8" stroke-linecap="butt"/>
<line x1="260.40" y1="200.16" x2="262.40" y2="200.16" stroke="#000" stroke-width="0.8" stroke-linecap="butt"/>
<line x1="260.40" y1="202.32" x2="262.40" y2="202.32" stroke="#000" stroke-width="0.8" stroke-linecap="butt"/>
<line x1="260.40" y1="204.48" x2="262.40" y2="204.48" stroke="#000" stroke-width="0.8" stroke-linecap="butt"/>
<line x1="260.40" y1="206.65" x2="262.40" y2="206.65" stroke="#000" stroke-width="0.8" stroke-linecap="butt"/>
<line x1="260.40" y1="208.81" x2="262.40" y2="208.81" stroke="#000" stroke-width="0.8" stroke-linecap="butt"/>
<line x1="260.40" y1="210.98" x2="262.40" y2="210.98" stroke="#000" stroke-width="0.8" stroke-linecap="butt"/>
<line x1="259.15" y1="213.14" x2="262.40" y2="213.14" stroke="#000" stroke-width="1.5" stroke-linecap="butt"/>
<text x="257.40" y="215.69" font-size="7.5" class="b" text-anchor="end" fill="#000">4</text>
<line x1="260.40" y1="215.30" x2="262.40" y2="215.30" stroke="#000" stroke-width="0.8" stroke-linecap="butt"/>
<line x1="260.40" y1="217.47" x2="262.40" y2="217.47" stroke="#000" stroke-width="0.8" stroke-linecap="butt"/>
<line x1="260.40" y1="219.63" x2="262.40" y2="219.63" stroke="#000" stroke-width="0.8" stroke-linecap="butt"/>
<line x1="260.40" y1="221.80" x2="262.40" y2="221.80" stroke="#000" stroke-width="0.8" stroke-linecap="butt"/>
<line x1="260.40" y1="223.96" x2="262.40" y2="223.96" stroke="#000" stroke-width="0.8" stroke-linecap="butt"/>
<line x1="260.40" y1="226.12" x2="262.40" y2="226.12" stroke="#000" stroke-width="0.8" stroke-linecap="butt"/>
<line x1="260.40" y1="228.29" x2="262.40" y2="228.29" stroke="#000" stroke-width="0.8" stroke-linecap="butt"/>
<line x1="260.40" y1="230.45" x2="262.40" y2="230.45" stroke="#000" stroke-width="0.8" stroke-linecap="butt"/>
<line x1="260.40" y1="232.62" x2="262.40" y2="232.62" stroke="#000" stroke-width="0.8" stroke-linecap="butt"/>
<line x1="259.15" y1="234.78" x2="262.40" y2="234.78" stroke="#000" stroke-width="1.5" stroke-linecap="butt"/>
<text x="257.40" y="237.33" font-size="7.5" class="b" text-anchor="end" fill="#000">3</text>
<line x1="260.40" y1="236.94" x2="262.40" y2="236.94" stroke="#000" stroke-width="0.8" stroke-linecap="butt"/>
<line x1="260.40" y1="239.11" x2="262.40" y2="239.11" stroke="#000" stroke-width="0.8" stroke-linecap="butt"/>
<line x1="260.40" y1="241.27" x2="262.40" y2="241.27" stroke="#000" stroke-width="0.8" stroke-linecap="butt"/>
<line x1="260.40" y1="243.44" x2="262.40" y2="243.44" stroke="#000" stroke-width="0.8" stroke-linecap="butt"/>
<line x1="260.40" y1="245.60" x2="262.40" y2="245.60" stroke="#000" stroke-width="0.8" stroke-linecap="butt"/>
<line x1="260.40" y1="247.76" x2="262.40" y2="247.76" stroke="#000" stroke-width="0.8" stroke-linecap="butt"/>
<line x1="260.40" y1="249.93" x2="262.40" y2="249.93" stroke="#000" stroke-width="0.8" stroke-linecap="butt"/>
<line x1="260.40" y1="252.09" x2="262.40" y2="252.09" stroke="#000" stroke-width="0.8" stroke-linecap="butt"/>
<line x1="260.40" y1="254.26" x2="262.40" y2="254.26" stroke="#000" stroke-width="0.8" stroke-linecap="butt"/>
<line x1="259.15" y1="256.42" x2="262.40" y2="256.42" stroke="#000" stroke-width="1.5" stroke-linecap="butt"/>
<text x="257.40" y="258.97" font-size="7.5" class="b" text-anchor="end" fill="#000">2</text>
<line x1="260.40" y1="258.58" x2="262.40" y2="258.58" stroke="#000" stroke-width="0.8" stroke-linecap="butt"/>
<line x1="260.40" y1="260.75" x2="262.40" y2="260.75" stroke="#000" stroke-width="0.8" stroke-linecap="butt"/>
<line x1="260.40" y1="262.91" x2="262.40" y2="262.91" stroke="#000" stroke-width="0.8" stroke-linecap="butt"/>
<line x1="260.40" y1="265.08" x2="262.40" y2="265.08" stroke="#000" stroke-width="0.8" stroke-linecap="butt"/>
<line x1="260.40" y1="267.24" x2="262.40" y2="267.24" stroke="#000" stroke-width="0.8" stroke-linecap="butt"/>
<line x1="260.40" y1="269.40" x2="262.40" y2="269.40" stroke="#000" stroke-width="0.8" stroke-linecap="butt"/>
<line x1="260.40" y1="271.57" x2="262.40" y2="271.57" stroke="#000" stroke-width="0.8" stroke-linecap="butt"/>
<line x1="260.40" y1="273.73" x2="262.40" y2="273.73" stroke="#000" stroke-width="0.8" stroke-linecap="butt"/>
<line x1="260.40" y1="275.90" x2="262.40" y2="275.90" stroke="#000" stroke-width="0.8" stroke-linecap="butt"/>
<line x1="259.15" y1="278.06" x2="262.40" y2="278.06" stroke="#000" stroke-width="1.5" stroke-linecap="butt"/>
<text x="257.40" y="280.61" font-size="7.5" class="b" text-anchor="end" fill="#000">1</text>
<line x1="260.40" y1="280.22" x2="262.40" y2="280.22" stroke="#000" stroke-width="0.8" stroke-linecap="butt"/>
<line x1="260.40" y1="282.39" x2="262.40" y2="282.39" stroke="#000" stroke-width="0.8" stroke-linecap="butt"/>
<line x1="260.40" y1="284.55" x2="262.40" y2="284.55" stroke="#000" stroke-width="0.8" stroke-linecap="butt"/>
<line x1="260.40" y1="286.72" x2="262.40" y2="286.72" stroke="#000" stroke-width="0.8" stroke-linecap="butt"/>
<line x1="260.40" y1="288.88" x2="262.40" y2="288.88" stroke="#000" stroke-width="0.8" stroke-linecap="butt"/>
<line x1="260.40" y1="291.04" x2="262.40" y2="291.04" stroke="#000" stroke-width="0.8" stroke-linecap="butt"/>
<line x1="260.40" y1="293.21" x2="262.40" y2="293.21" stroke="#000" stroke-width="0.8" stroke-linecap="butt"/>
<line x1="260.40" y1="295.37" x2="262.40" y2="295.37" stroke="#000" stroke-width="0.8" stroke-linecap="butt"/>
<line x1="260.40" y1="297.54" x2="262.40" y2="297.54" stroke="#000" stroke-width="0.8" stroke-linecap="butt"/>
<line x1="259.15" y1="299.70" x2="262.40" y2="299.70" stroke="#000" stroke-width="1.5" stroke-linecap="butt"/>
<text x="257.40" y="302.25" font-size="7.5" class="b" text-anchor="end" fill="#000">0</text>
<line x1="261.65" y1="299.70" x2="327.00" y2="299.70" stroke="#000" stroke-width="1.5" stroke-linecap="butt"/>
<line x1="273.50" y1="299.70" x2="273.50" y2="303.45" stroke="#000" stroke-width="1.5" stroke-linecap="butt"/>
<line x1="295.00" y1="299.70" x2="295.00" y2="303.45" stroke="#000" stroke-width="1.5" stroke-linecap="butt"/>
<line x1="316.60" y1="299.70" x2="316.60" y2="303.45" stroke="#000" stroke-width="1.5" stroke-linecap="butt"/>
<text x="276.20" y="310.20" font-size="8.5" class="b" text-anchor="end" fill="#000" transform="rotate(-45 276.20 310.20)">2dVac</text>
<text x="297.70" y="310.20" font-size="8.5" class="b" text-anchor="end" fill="#000" transform="rotate(-45 297.70 310.20)">2aVac</text>
<text x="319.30" y="310.20" font-size="8.5" class="b" text-anchor="end" fill="#000" transform="rotate(-45 319.30 310.20)">noVac</text>
<text x="244.80" y="244.90" font-size="9" class="b" text-anchor="middle" fill="#000" transform="rotate(-90 244.80 244.90)">PCV2 copy# (log10) in mesenteric LN</text>
<circle cx="273.40" cy="269.60" r="2.15" fill="#000"/>
<circle cx="268.50" cy="290.00" r="2.15" fill="#000"/>
<circle cx="278.50" cy="286.50" r="2.15" fill="#000"/>
<circle cx="268.50" cy="296.60" r="2.15" fill="#000"/>
<circle cx="278.50" cy="296.60" r="2.15" fill="#000"/>
<circle cx="273.50" cy="279.50" r="2.15" fill="#000"/>
<line x1="266.50" y1="281.00" x2="280.50" y2="281.00" stroke="#f15f1c" stroke-width="1.45" stroke-linecap="butt"/>
<line x1="273.50" y1="277.00" x2="273.50" y2="287.70" stroke="#f15f1c" stroke-width="1.45" stroke-linecap="butt"/>
<line x1="270.00" y1="277.00" x2="277.00" y2="277.00" stroke="#f15f1c" stroke-width="1.45" stroke-linecap="butt"/>
<line x1="270.00" y1="287.70" x2="277.00" y2="287.70" stroke="#f15f1c" stroke-width="1.45" stroke-linecap="butt"/>
<rect x="287.75" y="225.75" width="4.50" height="4.50" fill="#000"/>
<rect x="297.75" y="226.75" width="4.50" height="4.50" fill="#000"/>
<rect x="287.75" y="237.75" width="4.50" height="4.50" fill="#000"/>
<rect x="297.75" y="238.35" width="4.50" height="4.50" fill="#000"/>
<rect x="292.75" y="249.15" width="4.50" height="4.50" fill="#000"/>
<rect x="292.75" y="232.75" width="4.50" height="4.50" fill="#000"/>
<line x1="288.20" y1="234.60" x2="302.20" y2="234.60" stroke="#f15f1c" stroke-width="1.45" stroke-linecap="butt"/>
<line x1="295.20" y1="231.60" x2="295.20" y2="238.60" stroke="#f15f1c" stroke-width="1.45" stroke-linecap="butt"/>
<line x1="291.70" y1="231.60" x2="298.70" y2="231.60" stroke="#f15f1c" stroke-width="1.45" stroke-linecap="butt"/>
<line x1="291.70" y1="238.60" x2="298.70" y2="238.60" stroke="#f15f1c" stroke-width="1.45" stroke-linecap="butt"/>
<polygon points="312.00,198.80 314.40,203.20 309.60,203.20" fill="#000"/>
<polygon points="322.00,198.40 324.40,202.80 319.60,202.80" fill="#000"/>
<polygon points="317.00,211.80 319.40,216.20 314.60,216.20" fill="#000"/>
<polygon points="312.00,227.20 314.40,231.60 309.60,231.60" fill="#000"/>
<polygon points="322.00,227.20 324.40,231.60 319.60,231.60" fill="#000"/>
<polygon points="317.00,203.80 319.40,208.20 314.60,208.20" fill="#000"/>
<line x1="310.00" y1="207.00" x2="324.00" y2="207.00" stroke="#f15f1c" stroke-width="1.45" stroke-linecap="butt"/>
<line x1="317.00" y1="204.00" x2="317.00" y2="211.00" stroke="#f15f1c" stroke-width="1.45" stroke-linecap="butt"/>
<line x1="313.50" y1="204.00" x2="320.50" y2="204.00" stroke="#f15f1c" stroke-width="1.45" stroke-linecap="butt"/>
<line x1="313.50" y1="211.00" x2="320.50" y2="211.00" stroke="#f15f1c" stroke-width="1.45" stroke-linecap="butt"/>
<polyline points="282.80,216.00 282.80,186.20 315.00,186.20 315.00,193.00" fill="none" stroke="#222" stroke-width="0.9"/>
<line x1="270.60" y1="216.00" x2="296.00" y2="216.00" stroke="#222" stroke-width="0.9" stroke-linecap="butt"/>
<text x="301.00" y="186.60" font-size="11.5" class="b" text-anchor="middle" fill="#111">*</text>
<line x1="375.10" y1="190.75" x2="375.10" y2="300.45" stroke="#000" stroke-width="1.5" stroke-linecap="butt"/>
<line x1="371.85" y1="191.50" x2="375.10" y2="191.50" stroke="#000" stroke-width="1.5" stroke-linecap="butt"/>
<text x="370.10" y="194.05" font-size="7.5" class="b" text-anchor="end" fill="#000">3</text>
<line x1="373.10" y1="195.11" x2="375.10" y2="195.11" stroke="#000" stroke-width="0.8" stroke-linecap="butt"/>
<line x1="373.10" y1="198.71" x2="375.10" y2="198.71" stroke="#000" stroke-width="0.8" stroke-linecap="butt"/>
<line x1="373.10" y1="202.32" x2="375.10" y2="202.32" stroke="#000" stroke-width="0.8" stroke-linecap="butt"/>
<line x1="373.10" y1="205.93" x2="375.10" y2="205.93" stroke="#000" stroke-width="0.8" stroke-linecap="butt"/>
<line x1="373.10" y1="209.53" x2="375.10" y2="209.53" stroke="#000" stroke-width="0.8" stroke-linecap="butt"/>
<line x1="373.10" y1="213.14" x2="375.10" y2="213.14" stroke="#000" stroke-width="0.8" stroke-linecap="butt"/>
<line x1="373.10" y1="216.75" x2="375.10" y2="216.75" stroke="#000" stroke-width="0.8" stroke-linecap="butt"/>
<line x1="373.10" y1="220.35" x2="375.10" y2="220.35" stroke="#000" stroke-width="0.8" stroke-linecap="butt"/>
<line x1="373.10" y1="223.96" x2="375.10" y2="223.96" stroke="#000" stroke-width="0.8" stroke-linecap="butt"/>
<line x1="371.85" y1="227.57" x2="375.10" y2="227.57" stroke="#000" stroke-width="1.5" stroke-linecap="butt"/>
<text x="370.10" y="230.12" font-size="7.5" class="b" text-anchor="end" fill="#000">2</text>
<line x1="373.10" y1="231.17" x2="375.10" y2="231.17" stroke="#000" stroke-width="0.8" stroke-linecap="butt"/>
<line x1="373.10" y1="234.78" x2="375.10" y2="234.78" stroke="#000" stroke-width="0.8" stroke-linecap="butt"/>
<line x1="373.10" y1="238.39" x2="375.10" y2="238.39" stroke="#000" stroke-width="0.8" stroke-linecap="butt"/>
<line x1="373.10" y1="241.99" x2="375.10" y2="241.99" stroke="#000" stroke-width="0.8" stroke-linecap="butt"/>
<line x1="373.10" y1="245.60" x2="375.10" y2="245.60" stroke="#000" stroke-width="0.8" stroke-linecap="butt"/>
<line x1="373.10" y1="249.21" x2="375.10" y2="249.21" stroke="#000" stroke-width="0.8" stroke-linecap="butt"/>
<line x1="373.10" y1="252.81" x2="375.10" y2="252.81" stroke="#000" stroke-width="0.8" stroke-linecap="butt"/>
<line x1="373.10" y1="256.42" x2="375.10" y2="256.42" stroke="#000" stroke-width="0.8" stroke-linecap="butt"/>
<line x1="373.10" y1="260.03" x2="375.10" y2="260.03" stroke="#000" stroke-width="0.8" stroke-linecap="butt"/>
<line x1="371.85" y1="263.63" x2="375.10" y2="263.63" stroke="#000" stroke-width="1.5" stroke-linecap="butt"/>
<text x="370.10" y="266.18" font-size="7.5" class="b" text-anchor="end" fill="#000">1</text>
<line x1="373.10" y1="267.24" x2="375.10" y2="267.24" stroke="#000" stroke-width="0.8" stroke-linecap="butt"/>
<line x1="373.10" y1="270.85" x2="375.10" y2="270.85" stroke="#000" stroke-width="0.8" stroke-linecap="butt"/>
<line x1="373.10" y1="274.45" x2="375.10" y2="274.45" stroke="#000" stroke-width="0.8" stroke-linecap="butt"/>
<line x1="373.10" y1="278.06" x2="375.10" y2="278.06" stroke="#000" stroke-width="0.8" stroke-linecap="butt"/>
<line x1="373.10" y1="281.67" x2="375.10" y2="281.67" stroke="#000" stroke-width="0.8" stroke-linecap="butt"/>
<line x1="373.10" y1="285.27" x2="375.10" y2="285.27" stroke="#000" stroke-width="0.8" stroke-linecap="butt"/>
<line x1="373.10" y1="288.88" x2="375.10" y2="288.88" stroke="#000" stroke-width="0.8" stroke-linecap="butt"/>
<line x1="373.10" y1="292.49" x2="375.10" y2="292.49" stroke="#000" stroke-width="0.8" stroke-linecap="butt"/>
<line x1="373.10" y1="296.09" x2="375.10" y2="296.09" stroke="#000" stroke-width="0.8" stroke-linecap="butt"/>
<line x1="371.85" y1="299.70" x2="375.10" y2="299.70" stroke="#000" stroke-width="1.5" stroke-linecap="butt"/>
<text x="370.10" y="302.25" font-size="7.5" class="b" text-anchor="end" fill="#000">0</text>
<line x1="374.35" y1="299.70" x2="441.40" y2="299.70" stroke="#000" stroke-width="1.5" stroke-linecap="butt"/>
<line x1="386.00" y1="299.70" x2="386.00" y2="303.45" stroke="#000" stroke-width="1.5" stroke-linecap="butt"/>
<line x1="407.40" y1="299.70" x2="407.40" y2="303.45" stroke="#000" stroke-width="1.5" stroke-linecap="butt"/>
<line x1="428.60" y1="299.70" x2="428.60" y2="303.45" stroke="#000" stroke-width="1.5" stroke-linecap="butt"/>
<text x="388.70" y="310.20" font-size="8.5" class="b" text-anchor="end" fill="#000" transform="rotate(-45 388.70 310.20)">2dVac</text>
<text x="410.10" y="310.20" font-size="8.5" class="b" text-anchor="end" fill="#000" transform="rotate(-45 410.10 310.20)">2aVac</text>
<text x="431.30" y="310.20" font-size="8.5" class="b" text-anchor="end" fill="#000" transform="rotate(-45 431.30 310.20)">noVac</text>
<text x="357.00" y="244.40" font-size="9" class="b" text-anchor="middle" fill="#000" transform="rotate(-90 357.00 244.40)">PCV2 copy# (log10) in inguinal LN</text>
<circle cx="381.05" cy="299.70" r="2.15" fill="#000"/>
<circle cx="383.03" cy="299.70" r="2.15" fill="#000"/>
<circle cx="385.01" cy="299.70" r="2.15" fill="#000"/>
<circle cx="386.99" cy="299.70" r="2.15" fill="#000"/>
<circle cx="388.97" cy="299.70" r="2.15" fill="#000"/>
<circle cx="390.95" cy="299.70" r="2.15" fill="#000"/>
<line x1="379.80" y1="299.70" x2="392.20" y2="299.70" stroke="#d4521e" stroke-width="0.6" stroke-linecap="butt"/>
<rect x="405.25" y="252.95" width="4.50" height="4.50" fill="#000"/>
<rect x="405.25" y="262.75" width="4.50" height="4.50" fill="#000"/>
<rect x="405.25" y="273.75" width="4.50" height="4.50" fill="#000"/>
<rect x="405.25" y="280.35" width="4.50" height="4.50" fill="#000"/>
<rect x="405.25" y="297.45" width="4.50" height="4.50" fill="#000"/>
<line x1="400.40" y1="269.40" x2="414.40" y2="269.40" stroke="#f15f1c" stroke-width="1.45" stroke-linecap="butt"/>
<line x1="407.40" y1="263.60" x2="407.40" y2="277.60" stroke="#f15f1c" stroke-width="1.45" stroke-linecap="butt"/>
<line x1="403.90" y1="263.60" x2="410.90" y2="263.60" stroke="#f15f1c" stroke-width="1.45" stroke-linecap="butt"/>
<line x1="403.90" y1="277.60" x2="410.90" y2="277.60" stroke="#f15f1c" stroke-width="1.45" stroke-linecap="butt"/>
<polygon points="428.60,201.80 431.00,206.20 426.20,206.20" fill="#000"/>
<polygon points="428.60,212.80 431.00,217.20 426.20,217.20" fill="#000"/>
<polygon points="423.60,224.40 426.00,228.80 421.20,228.80" fill="#000"/>
<polygon points="433.60,222.80 436.00,227.20 431.20,227.20" fill="#000"/>
<polygon points="428.60,234.20 431.00,238.60 426.20,238.60" fill="#000"/>
<polygon points="428.60,246.80 431.00,251.20 426.20,251.20" fill="#000"/>
<line x1="421.60" y1="219.40" x2="435.60" y2="219.40" stroke="#f15f1c" stroke-width="1.45" stroke-linecap="butt"/>
<line x1="428.60" y1="214.00" x2="428.60" y2="227.00" stroke="#f15f1c" stroke-width="1.45" stroke-linecap="butt"/>
<line x1="425.10" y1="214.00" x2="432.10" y2="214.00" stroke="#f15f1c" stroke-width="1.45" stroke-linecap="butt"/>
<line x1="425.10" y1="227.00" x2="432.10" y2="227.00" stroke="#f15f1c" stroke-width="1.45" stroke-linecap="butt"/>
<polyline points="397.00,219.40 397.00,191.00 429.00,191.00 429.00,198.00" fill="none" stroke="#222" stroke-width="0.9"/>
<line x1="384.40" y1="219.40" x2="410.00" y2="219.40" stroke="#222" stroke-width="0.9" stroke-linecap="butt"/>
<text x="415.00" y="192.00" font-size="11.5" class="b" text-anchor="middle" fill="#111">*</text>
<line x1="38.60" y1="363.85" x2="38.60" y2="473.05" stroke="#000" stroke-width="1.5" stroke-linecap="butt"/>
<line x1="35.35" y1="364.60" x2="38.60" y2="364.60" stroke="#000" stroke-width="1.5" stroke-linecap="butt"/>
<text x="33.60" y="367.15" font-size="7.5" class="b" text-anchor="end" fill="#000">3.0</text>
<line x1="36.60" y1="368.19" x2="38.60" y2="368.19" stroke="#000" stroke-width="0.8" stroke-linecap="butt"/>
<line x1="36.60" y1="371.78" x2="38.60" y2="371.78" stroke="#000" stroke-width="0.8" stroke-linecap="butt"/>
<line x1="36.60" y1="375.37" x2="38.60" y2="375.37" stroke="#000" stroke-width="0.8" stroke-linecap="butt"/>
<line x1="36.60" y1="378.96" x2="38.60" y2="378.96" stroke="#000" stroke-width="0.8" stroke-linecap="butt"/>
<line x1="35.35" y1="382.55" x2="38.60" y2="382.55" stroke="#000" stroke-width="1.5" stroke-linecap="butt"/>
<text x="33.60" y="385.10" font-size="7.5" class="b" text-anchor="end" fill="#000">2.5</text>
<line x1="36.60" y1="386.14" x2="38.60" y2="386.14" stroke="#000" stroke-width="0.8" stroke-linecap="butt"/>
<line x1="36.60" y1="389.73" x2="38.60" y2="389.73" stroke="#000" stroke-width="0.8" stroke-linecap="butt"/>
<line x1="36.60" y1="393.32" x2="38.60" y2="393.32" stroke="#000" stroke-width="0.8" stroke-linecap="butt"/>
<line x1="36.60" y1="396.91" x2="38.60" y2="396.91" stroke="#000" stroke-width="0.8" stroke-linecap="butt"/>
<line x1="35.35" y1="400.50" x2="38.60" y2="400.50" stroke="#000" stroke-width="1.5" stroke-linecap="butt"/>
<text x="33.60" y="403.05" font-size="7.5" class="b" text-anchor="end" fill="#000">2.0</text>
<line x1="36.60" y1="404.09" x2="38.60" y2="404.09" stroke="#000" stroke-width="0.8" stroke-linecap="butt"/>
<line x1="36.60" y1="407.68" x2="38.60" y2="407.68" stroke="#000" stroke-width="0.8" stroke-linecap="butt"/>
<line x1="36.60" y1="411.27" x2="38.60" y2="411.27" stroke="#000" stroke-width="0.8" stroke-linecap="butt"/>
<line x1="36.60" y1="414.86" x2="38.60" y2="414.86" stroke="#000" stroke-width="0.8" stroke-linecap="butt"/>
<line x1="35.35" y1="418.45" x2="38.60" y2="418.45" stroke="#000" stroke-width="1.5" stroke-linecap="butt"/>
<text x="33.60" y="421.00" font-size="7.5" class="b" text-anchor="end" fill="#000">1.5</text>
<line x1="36.60" y1="422.04" x2="38.60" y2="422.04" stroke="#000" stroke-width="0.8" stroke-linecap="butt"/>
<line x1="36.60" y1="425.63" x2="38.60" y2="425.63" stroke="#000" stroke-width="0.8" stroke-linecap="butt"/>
<line x1="36.60" y1="429.22" x2="38.60" y2="429.22" stroke="#000" stroke-width="0.8" stroke-linecap="butt"/>
<line x1="36.60" y1="432.81" x2="38.60" y2="432.81" stroke="#000" stroke-width="0.8" stroke-linecap="butt"/>
<line x1="35.35" y1="436.40" x2="38.60" y2="436.40" stroke="#000" stroke-width="1.5" stroke-linecap="butt"/>
<text x="33.60" y="438.95" font-size="7.5" class="b" text-anchor="end" fill="#000">1.0</text>
<line x1="36.60" y1="439.99" x2="38.60" y2="439.99" stroke="#000" stroke-width="0.8" stroke-linecap="butt"/>
<line x1="36.60" y1="443.58" x2="38.60" y2="443.58" stroke="#000" stroke-width="0.8" stroke-linecap="butt"/>
<line x1="36.60" y1="447.17" x2="38.60" y2="447.17" stroke="#000" stroke-width="0.8" stroke-linecap="butt"/>
<line x1="36.60" y1="450.76" x2="38.60" y2="450.76" stroke="#000" stroke-width="0.8" stroke-linecap="butt"/>
<line x1="35.35" y1="454.35" x2="38.60" y2="454.35" stroke="#000" stroke-width="1.5" stroke-linecap="butt"/>
<text x="33.60" y="456.90" font-size="7.5" class="b" text-anchor="end" fill="#000">0.5</text>
<line x1="36.60" y1="457.94" x2="38.60" y2="457.94" stroke="#000" stroke-width="0.8" stroke-linecap="butt"/>
<line x1="36.60" y1="461.53" x2="38.60" y2="461.53" stroke="#000" stroke-width="0.8" stroke-linecap="butt"/>
<line x1="36.60" y1="465.12" x2="38.60" y2="465.12" stroke="#000" stroke-width="0.8" stroke-linecap="butt"/>
<line x1="36.60" y1="468.71" x2="38.60" y2="468.71" stroke="#000" stroke-width="0.8" stroke-linecap="butt"/>
<line x1="35.35" y1="472.30" x2="38.60" y2="472.30" stroke="#000" stroke-width="1.5" stroke-linecap="butt"/>
<text x="33.60" y="474.85" font-size="7.5" class="b" text-anchor="end" fill="#000">0.0</text>
<line x1="37.85" y1="472.30" x2="103.60" y2="472.30" stroke="#000" stroke-width="1.5" stroke-linecap="butt"/>
<line x1="49.50" y1="472.30" x2="49.50" y2="476.05" stroke="#000" stroke-width="1.5" stroke-linecap="butt"/>
<line x1="71.40" y1="472.30" x2="71.40" y2="476.05" stroke="#000" stroke-width="1.5" stroke-linecap="butt"/>
<line x1="92.60" y1="472.30" x2="92.60" y2="476.05" stroke="#000" stroke-width="1.5" stroke-linecap="butt"/>
<text x="52.20" y="483.40" font-size="8.5" class="b" text-anchor="end" fill="#000" transform="rotate(-45 52.20 483.40)">2dVac</text>
<text x="74.10" y="483.40" font-size="8.5" class="b" text-anchor="end" fill="#000" transform="rotate(-45 74.10 483.40)">2aVac</text>
<text x="95.30" y="483.40" font-size="8.5" class="b" text-anchor="end" fill="#000" transform="rotate(-45 95.30 483.40)">noVac</text>
<text x="17.70" y="417.50" font-size="9" class="b" text-anchor="middle" fill="#000" transform="rotate(-90 17.70 417.50)">Score in lung</text>
<polyline points="45.60,443.00 45.60,347.00 94.40,347.00 94.40,358.60" fill="none" stroke="#222" stroke-width="0.9"/>
<polyline points="50.00,443.00 50.00,365.40 69.00,365.40 69.00,389.60" fill="none" stroke="#222" stroke-width="0.9"/>
<polyline points="71.60,389.60 71.60,354.40 91.40,354.40 91.40,358.60" fill="none" stroke="#222" stroke-width="0.9"/>
<text x="70.40" y="347.00" font-size="11.5" class="b" text-anchor="middle" fill="#111">***</text>
<text x="59.60" y="366.00" font-size="11.5" class="b" text-anchor="middle" fill="#111">*</text>
<text x="82.40" y="356.60" font-size="11.5" class="b" text-anchor="middle" fill="#111">*</text>
<circle cx="44.55" cy="472.30" r="2.15" fill="#000"/>
<circle cx="46.53" cy="472.30" r="2.15" fill="#000"/>
<circle cx="48.51" cy="472.30" r="2.15" fill="#000"/>
<circle cx="50.49" cy="472.30" r="2.15" fill="#000"/>
<circle cx="52.47" cy="472.30" r="2.15" fill="#000"/>
<circle cx="54.45" cy="472.30" r="2.15" fill="#000"/>
<line x1="43.30" y1="472.30" x2="55.70" y2="472.30" stroke="#d4521e" stroke-width="0.6" stroke-linecap="butt"/>
<rect x="69.15" y="397.95" width="4.50" height="4.50" fill="#000"/>
<rect x="63.85" y="434.25" width="4.50" height="4.50" fill="#000"/>
<rect x="67.25" y="434.25" width="4.50" height="4.50" fill="#000"/>
<rect x="70.65" y="434.25" width="4.50" height="4.50" fill="#000"/>
<rect x="74.05" y="434.25" width="4.50" height="4.50" fill="#000"/>
<rect x="69.15" y="470.05" width="4.50" height="4.50" fill="#000"/>
<line x1="63.90" y1="436.50" x2="78.30" y2="436.50" stroke="#f15f1c" stroke-width="0.9" stroke-linecap="butt"/>
<line x1="71.10" y1="424.60" x2="71.10" y2="448.00" stroke="#f15f1c" stroke-width="1.45" stroke-linecap="butt"/>
<line x1="67.50" y1="424.60" x2="74.70" y2="424.60" stroke="#f15f1c" stroke-width="1.45" stroke-linecap="butt"/>
<line x1="67.50" y1="448.00" x2="74.70" y2="448.00" stroke="#f15f1c" stroke-width="1.45" stroke-linecap="butt"/>
<polygon points="92.60,362.40 95.00,366.80 90.20,366.80" fill="#000"/>
<polygon points="88.20,398.05 90.65,402.55 85.75,402.55" fill="#000"/>
<polygon points="91.20,398.05 93.65,402.55 88.75,402.55" fill="#000"/>
<polygon points="94.20,398.05 96.65,402.55 91.75,402.55" fill="#000"/>
<polygon points="97.20,398.05 99.65,402.55 94.75,402.55" fill="#000"/>
<polygon points="92.60,434.30 95.00,438.70 90.20,438.70" fill="#000"/>
<line x1="85.70" y1="401.00" x2="99.50" y2="401.00" stroke="#f15f1c" stroke-width="0.9" stroke-linecap="butt"/>
<line x1="92.60" y1="391.10" x2="92.60" y2="409.70" stroke="#f15f1c" stroke-width="1.45" stroke-linecap="butt"/>
<line x1="89.30" y1="391.10" x2="95.90" y2="391.10" stroke="#f15f1c" stroke-width="1.45" stroke-linecap="butt"/>
<line x1="89.30" y1="409.70" x2="95.90" y2="409.70" stroke="#f15f1c" stroke-width="1.45" stroke-linecap="butt"/>
<text x="202.80" y="361.80" font-size="8.9" class="b" text-anchor="middle" fill="#000">2dVac</text>
<text x="337.50" y="361.80" font-size="8.9" class="b" text-anchor="middle" fill="#000">2aVac</text>
<text x="480.30" y="361.80" font-size="8.9" class="b" text-anchor="middle" fill="#000">noVac</text>
<defs><filter id="fn1" x="0" y="0" width="100%" height="100%" color-interpolation-filters="sRGB"><feTurbulence type="fractalNoise" baseFrequency="0.4" numOctaves="2" seed="11"/><feColorMatrix type="matrix" values="0 0 0 0 0.580  0 0 0 0 0.345  0 0 0 0 0.745  5 0 0 0 -2.4"/><feGaussianBlur stdDeviation="0.35"/></filter><filter id="fl1" x="0" y="0" width="100%" height="100%" color-interpolation-filters="sRGB"><feTurbulence type="fractalNoise" baseFrequency="0.44000000000000006" numOctaves="2" seed="16"/><feColorMatrix type="matrix" values="0 0 0 0 0.875  0 0 0 0 0.863  0 0 0 0 0.886  0 5 0 0 -2.55"/><feGaussianBlur stdDeviation="0.3"/></filter><linearGradient id="gr1" x1="0" y1="0" x2="0.25" y2="1"><stop offset="0" stop-color="#f8a0d0" stop-opacity="0.06"/><stop offset="0.45" stop-color="#c060c0" stop-opacity="0"/><stop offset="1" stop-color="#a040b8" stop-opacity="0.22"/></linearGradient><filter id="fd1" x="-5%" y="-5%" width="110%" height="110%"><feTurbulence type="fractalNoise" baseFrequency="0.12" numOctaves="2" seed="13" result="t"/><feDisplacementMap in="SourceGraphic" in2="t" scale="2.5" xChannelSelector="R" yChannelSelector="G"/><feGaussianBlur stdDeviation="0.45"/></filter></defs>
<clipPath id="c1"><rect x="128" y="363" width="138" height="86"/></clipPath>
<g clip-path="url(#c1)">
<rect x="128.00" y="363.00" width="138.00" height="86.00" fill="#c9a0d8"/>
<rect x="128" y="363" width="138" height="86" fill="#000" filter="url(#fn1)"/>
<rect x="128" y="363" width="138" height="86" fill="#000" filter="url(#fl1)"/>
<g fill="#dcdadb" filter="url(#fd1)">
<ellipse cx="134" cy="370.5" rx="13.3" ry="10.8"/>
<ellipse cx="161.8" cy="372.3" rx="10.3" ry="10.3"/>
<ellipse cx="186.4" cy="368" rx="6.8" ry="5.8"/>
<ellipse cx="203" cy="365.5" rx="8.8" ry="5.3"/>
<ellipse cx="251" cy="374" rx="19.3" ry="12.3"/>
<ellipse cx="201.3" cy="387" rx="10.4" ry="13.8"/>
<ellipse cx="181.6" cy="389.3" rx="7.8" ry="10.3"/>
<ellipse cx="244.7" cy="401.3" rx="17.4" ry="12.6"/>
<ellipse cx="147" cy="411" rx="20.1" ry="22.6"/>
<ellipse cx="162" cy="440" rx="7.8" ry="9.8"/>
<ellipse cx="180" cy="432" rx="9.8" ry="9.3"/>
<ellipse cx="257" cy="430.6" rx="9.8" ry="13.3"/>
<ellipse cx="234.5" cy="419" rx="5.3" ry="5.3"/>
<ellipse cx="215" cy="417.7" rx="5.8" ry="5.8"/>
<ellipse cx="202" cy="403.8" rx="9.3" ry="5.3"/>
<ellipse cx="197" cy="423" rx="3.3" ry="6.8"/>
<ellipse cx="201" cy="442.5" rx="6.8" ry="5.8"/>
<ellipse cx="231" cy="441.5" rx="4.8" ry="5.8"/>
<ellipse cx="225.7" cy="406" rx="4.3" ry="4.3"/>
<ellipse cx="216.8" cy="387.3" rx="2.8" ry="5.8"/>
<ellipse cx="265.2" cy="397" rx="1.3" ry="8.8"/>
<ellipse cx="176.8" cy="408.8" rx="2.8" ry="2.8"/>
<ellipse cx="192.5" cy="415" rx="4.8" ry="3.8"/>
<ellipse cx="186" cy="447.5" rx="11.8" ry="2.8"/>
<ellipse cx="131" cy="390" rx="2.8" ry="2.8"/>
<ellipse cx="134" cy="444" rx="4.3" ry="3.8"/>
<ellipse cx="143" cy="446" rx="2.8" ry="2.3"/>
<ellipse cx="216" cy="433" rx="3.3" ry="3.8"/>
<ellipse cx="244" cy="443" rx="3.8" ry="4.3"/>
<ellipse cx="222" cy="366.5" rx="3.8" ry="2.8"/>
<ellipse cx="172" cy="401" rx="3.8" ry="2.8"/>
<ellipse cx="190" cy="403" rx="2.3" ry="2.8"/>
<ellipse cx="216" cy="447" rx="5.8" ry="2.3"/>
<ellipse cx="173" cy="417" rx="3.5" ry="3"/>
<ellipse cx="185" cy="407" rx="3" ry="2.5"/>
<ellipse cx="208" cy="428" rx="3.5" ry="3.5"/>
<ellipse cx="222" cy="426" rx="3" ry="3"/>
<ellipse cx="240" cy="430" rx="3" ry="3.5"/>
<ellipse cx="220" cy="395" rx="3" ry="4"/>
<ellipse cx="226" cy="384" rx="3" ry="3.5"/>
<ellipse cx="191" cy="378" rx="2.5" ry="3"/>
<ellipse cx="174" cy="362" rx="4" ry="3"/>
<ellipse cx="136" cy="436" rx="3" ry="3"/>
<ellipse cx="150" cy="444" rx="3.5" ry="3"/>
<ellipse cx="210" cy="440" rx="3" ry="3"/>
<ellipse cx="243" cy="418" rx="3" ry="2.5"/>
<ellipse cx="224" cy="416" rx="2.5" ry="2.5"/>
<ellipse cx="262" cy="413" rx="3" ry="3"/>
</g></g>
<line x1="249.00" y1="447.60" x2="265.00" y2="447.60" stroke="#fff" stroke-width="0.8" stroke-linecap="butt"/>
<text x="252.00" y="372.50" font-size="7.2" class="b" text-anchor="start" fill="#111" textLength="7.4" lengthAdjust="spacing">(-)</text>
<defs><filter id="fn2" x="0" y="0" width="100%" height="100%" color-interpolation-filters="sRGB"><feTurbulence type="fractalNoise" baseFrequency="0.5" numOctaves="2" seed="23"/><feColorMatrix type="matrix" values="0 0 0 0 0.659  0 0 0 0 0.376  0 0 0 0 0.769  5 0 0 0 -2.5"/><feGaussianBlur stdDeviation="0.35"/></filter><filter id="fl2" x="0" y="0" width="100%" height="100%" color-interpolation-filters="sRGB"><feTurbulence type="fractalNoise" baseFrequency="0.55" numOctaves="2" seed="28"/><feColorMatrix type="matrix" values="0 0 0 0 0.957  0 0 0 0 0.886  0 0 0 0 0.933  0 5 0 0 -2.8"/><feGaussianBlur stdDeviation="0.3"/></filter><filter id="fp2" x="0" y="0" width="100%" height="100%" color-interpolation-filters="sRGB"><feTurbulence type="fractalNoise" baseFrequency="0.3" numOctaves="2" seed="32"/><feColorMatrix type="matrix" values="0 0 0 0 0.918  0 0 0 0 0.384  0 0 0 0 0.659  0 0 5 0 -2.6"/></filter><linearGradient id="gr2" x1="0" y1="0" x2="0.25" y2="1"><stop offset="0" stop-color="#f8a0d0" stop-opacity="0.06"/><stop offset="0.45" stop-color="#c060c0" stop-opacity="0"/><stop offset="1" stop-color="#a040b8" stop-opacity="0.22"/></linearGradient><filter id="fd2" x="-5%" y="-5%" width="110%" height="110%"><feTurbulence type="fractalNoise" baseFrequency="0.12" numOctaves="2" seed="25" result="t"/><feDisplacementMap in="SourceGraphic" in2="t" scale="5" xChannelSelector="R" yChannelSelector="G"/><feGaussianBlur stdDeviation="0.45"/></filter></defs>
<clipPath id="c2"><rect x="267.7" y="363" width="137.8" height="86"/></clipPath>
<g clip-path="url(#c2)">
<rect x="267.70" y="363.00" width="137.80" height="86.00" fill="#e88cc2"/>
<rect x="267.7" y="363" width="137.8" height="86" fill="#000" filter="url(#fp2)"/>
<rect x="267.7" y="363" width="137.8" height="86" fill="#000" filter="url(#fn2)"/>
<rect x="267.7" y="363" width="137.8" height="86" fill="#000" filter="url(#fl2)"/>
<rect x="267.7" y="363" width="137.8" height="86" fill="url(#gr2)"/>
<g fill="#e4dfe2" filter="url(#fd2)">
<ellipse cx="272.5" cy="365.5" rx="4.5" ry="2.5"/>
<ellipse cx="302" cy="367.8" rx="8" ry="4.5"/>
<ellipse cx="307" cy="384" rx="10" ry="8.5"/>
<ellipse cx="288.5" cy="394.8" rx="6" ry="6"/>
<ellipse cx="302" cy="396.5" rx="5" ry="4"/>
<ellipse cx="312" cy="401.5" rx="6" ry="6"/>
<ellipse cx="318" cy="387.3" rx="3.5" ry="4.5"/>
<ellipse cx="323.6" cy="375" rx="4" ry="5.5"/>
<ellipse cx="317.5" cy="366.5" rx="4.5" ry="3"/>
<ellipse cx="336.5" cy="367" rx="5" ry="4"/>
<ellipse cx="334" cy="402.5" rx="5.5" ry="5.5"/>
<ellipse cx="327.7" cy="392.7" rx="2" ry="2"/>
<ellipse cx="291.6" cy="373" rx="2.5" ry="2.5"/>
<ellipse cx="279" cy="408.5" rx="4.5" ry="3.5"/>
<ellipse cx="292" cy="407.3" rx="3" ry="3"/>
<ellipse cx="356" cy="385" rx="10" ry="5.5" transform="rotate(-30 356 385)"/>
<ellipse cx="374" cy="368" rx="7.5" ry="5"/>
<ellipse cx="393.6" cy="389.3" rx="9" ry="11"/>
<ellipse cx="374.5" cy="398" rx="5" ry="4.5"/>
<ellipse cx="402" cy="368" rx="3.5" ry="5"/>
<ellipse cx="350" cy="408.5" rx="5.5" ry="4.5"/>
<ellipse cx="280" cy="422.5" rx="6" ry="5"/>
<ellipse cx="318.2" cy="411.5" rx="4.5" ry="3"/>
<ellipse cx="303.9" cy="418.4" rx="2.7" ry="2.7"/>
<ellipse cx="335.2" cy="419.7" rx="3.5" ry="3.5"/>
<ellipse cx="299" cy="428.6" rx="2" ry="2"/>
<ellipse cx="396.4" cy="416.3" rx="10" ry="5.5" transform="rotate(-35 396.4 416.3)"/>
<ellipse cx="374.5" cy="416.3" rx="2.5" ry="2.5"/>
<ellipse cx="337" cy="408.5" rx="3" ry="3"/>
<ellipse cx="397.7" cy="441.5" rx="2.5" ry="2.5"/>
<ellipse cx="385" cy="378" rx="3" ry="2.5"/>
<ellipse cx="366" cy="377" rx="2.5" ry="2"/>
</g></g>
<line x1="389.40" y1="447.60" x2="405.40" y2="447.60" stroke="#fff" stroke-width="0.8" stroke-linecap="butt"/>
<text x="384.80" y="372.50" font-size="7.2" class="b" text-anchor="start" fill="#111" textLength="15" lengthAdjust="spacing">(++)</text>
<defs><filter id="fn3" x="0" y="0" width="100%" height="100%" color-interpolation-filters="sRGB"><feTurbulence type="fractalNoise" baseFrequency="0.5" numOctaves="2" seed="37"/><feColorMatrix type="matrix" values="0 0 0 0 0.635  0 0 0 0 0.376  0 0 0 0 0.776  5 0 0 0 -2.45"/><feGaussianBlur stdDeviation="0.35"/></filter><filter id="fl3" x="0" y="0" width="100%" height="100%" color-interpolation-filters="sRGB"><feTurbulence type="fractalNoise" baseFrequency="0.55" numOctaves="2" seed="42"/><feColorMatrix type="matrix" values="0 0 0 0 0.949  0 0 0 0 0.878  0 0 0 0 0.941  0 5 0 0 -2.85"/><feGaussianBlur stdDeviation="0.3"/></filter><filter id="fp3" x="0" y="0" width="100%" height="100%" color-interpolation-filters="sRGB"><feTurbulence type="fractalNoise" baseFrequency="0.3" numOctaves="2" seed="46"/><feColorMatrix type="matrix" values="0 0 0 0 0.894  0 0 0 0 0.400  0 0 0 0 0.706  0 0 5 0 -2.65"/></filter><linearGradient id="gr3" x1="0" y1="0" x2="0.25" y2="1"><stop offset="0" stop-color="#f8a0d0" stop-opacity="0.06"/><stop offset="0.45" stop-color="#c060c0" stop-opacity="0"/><stop offset="1" stop-color="#a040b8" stop-opacity="0.22"/></linearGradient><filter id="fd3" x="-5%" y="-5%" width="110%" height="110%"><feTurbulence type="fractalNoise" baseFrequency="0.12" numOctaves="2" seed="39" result="t"/><feDisplacementMap in="SourceGraphic" in2="t" scale="4" xChannelSelector="R" yChannelSelector="G"/><feGaussianBlur stdDeviation="0.45"/></filter></defs>
<clipPath id="c3"><rect x="407.5" y="363" width="138.6" height="86"/></clipPath>
<g clip-path="url(#c3)">
<rect x="407.50" y="363.00" width="138.60" height="86.00" fill="#e08cca"/>
<rect x="407.5" y="363" width="138.6" height="86" fill="#000" filter="url(#fp3)"/>
<rect x="407.5" y="363" width="138.6" height="86" fill="#000" filter="url(#fn3)"/>
<rect x="407.5" y="363" width="138.6" height="86" fill="#000" filter="url(#fl3)"/>
<rect x="407.5" y="363" width="138.6" height="86" fill="url(#gr3)"/>
<g fill="#e6dfe4" filter="url(#fd3)">
<ellipse cx="462.3" cy="385.2" rx="5" ry="5.5"/>
<ellipse cx="479" cy="371.6" rx="5.5" ry="5"/>
<ellipse cx="487.3" cy="382.5" rx="5.5" ry="5.5"/>
<ellipse cx="513.2" cy="385.2" rx="3.5" ry="2.7"/>
<ellipse cx="537.7" cy="376.4" rx="2.7" ry="2.7"/>
<ellipse cx="543" cy="397.5" rx="3" ry="4.5"/>
<ellipse cx="490.7" cy="410.2" rx="4" ry="5"/>
<ellipse cx="482.5" cy="428.6" rx="4.5" ry="8.5"/>
<ellipse cx="520" cy="422.5" rx="7.5" ry="3"/>
<ellipse cx="499" cy="426.5" rx="2" ry="2"/>
<ellipse cx="422" cy="415" rx="3" ry="3"/>
<ellipse cx="463.6" cy="425" rx="2.5" ry="2.5"/>
<ellipse cx="465" cy="434.7" rx="2.5" ry="2.5"/>
<ellipse cx="528" cy="408" rx="2" ry="2.5"/>
<ellipse cx="445" cy="398" rx="1.8" ry="1.8"/>
</g></g>
<line x1="529.00" y1="447.60" x2="545.00" y2="447.60" stroke="#fff" stroke-width="0.8" stroke-linecap="butt"/>
<text x="518.60" y="372.50" font-size="7.2" class="b" text-anchor="start" fill="#111" textLength="22" lengthAdjust="spacing">(+++)</text>
<rect x="223.00" y="452.30" width="235.00" height="16.00" fill="#fff" stroke="#9a9a9a" stroke-width="0.9"/>
<text x="237.00" y="464.20" font-size="9.6" class="r" text-anchor="start" fill="#111" textLength="206" lengthAdjust="spacingAndGlyphs">(-) normal, (+) mild, (++) moderate, (+++) severe</text>
</svg>
</body></html>
